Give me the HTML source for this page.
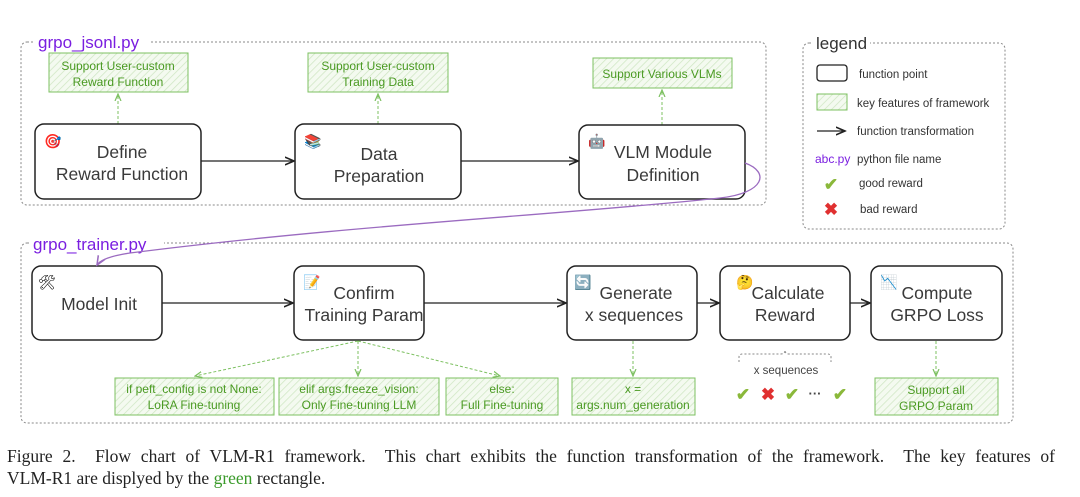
<!DOCTYPE html>
<html><head><meta charset="utf-8"><style>
body{margin:0;background:#fff;width:1080px;height:497px;overflow:hidden;position:relative}
svg{position:absolute;left:0;top:0}
.cap{position:absolute;left:7px;width:1048px;font-family:"Liberation Serif",serif;font-size:17.5px;line-height:22px;color:#222;white-space:nowrap}
.l1{top:445px;text-align:justify;text-align-last:justify;white-space:normal}
.l2{top:467px}
</style></head><body>
<svg width="1080" height="497" viewBox="0 0 1080 497" font-family="Liberation Sans, sans-serif">
<defs>
<pattern id="h" width="5" height="5" patternUnits="userSpaceOnUse" patternTransform="rotate(45)"><rect width="5" height="5" fill="#f4faf0"/><line x1="0" y1="0" x2="0" y2="5" stroke="#cfe6c3" stroke-width="1.5"/></pattern>
<marker id="a" markerWidth="8" markerHeight="8" refX="7" refY="4" orient="auto"><path d="M0,1 L7,4 L0,7" fill="none" stroke="#222" stroke-width="1.2"/></marker>
<marker id="g" markerWidth="8" markerHeight="8" refX="7" refY="4" orient="auto"><path d="M0,1 L7,4 L0,7" fill="none" stroke="#7cc060" stroke-width="1.2"/></marker>
<marker id="p" markerWidth="8" markerHeight="8" refX="7" refY="4" orient="auto"><path d="M0,1 L7,4 L0,7" fill="none" stroke="#9b6bc0" stroke-width="1.2"/></marker>
</defs>
<rect x="21" y="42" width="745" height="163" rx="6" fill="none" stroke="#888" stroke-dasharray="2,2"/>
<rect x="34" y="30" width="116" height="22" fill="#fff"/>
<text x="38" y="48" font-size="17" fill="#7a1ee0">grpo_jsonl.py</text>
<rect x="21" y="243" width="992" height="180" rx="6" fill="none" stroke="#888" stroke-dasharray="2,2"/>
<rect x="30" y="232" width="134" height="22" fill="#fff"/>
<text x="33" y="250" font-size="17" fill="#7a1ee0">grpo_trainer.py</text>
<rect x="803" y="43" width="202" height="186" rx="6" fill="none" stroke="#888" stroke-dasharray="2,2"/>
<rect x="812" y="32" width="58" height="22" fill="#fff"/>
<text x="816" y="49" font-size="17" fill="#333">legend</text>
<g font-size="12" fill="#4a9a22" text-anchor="middle">
<rect x="49" y="53" width="139" height="39" fill="url(#h)" stroke="#7cc060"/>
<text x="118" y="70">Support User-custom</text><text x="118" y="86">Reward Function</text>
<rect x="308" y="53" width="140" height="39" fill="url(#h)" stroke="#7cc060"/>
<text x="378" y="70">Support User-custom</text><text x="378" y="86">Training Data</text>
<rect x="593" y="58" width="139" height="30" fill="url(#h)" stroke="#7cc060"/>
<text x="662" y="78">Support Various VLMs</text>
</g>
<g stroke="#7cc060" stroke-dasharray="3,2" fill="none">
<line x1="118" y1="124" x2="118" y2="94" marker-end="url(#g)"/>
<line x1="378" y1="124" x2="378" y2="94" marker-end="url(#g)"/>
<line x1="662" y1="125" x2="662" y2="90" marker-end="url(#g)"/>
</g>
<g fill="#fff" stroke="#222" stroke-width="1.5">
<rect x="35" y="124" width="166" height="75" rx="9"/>
<rect x="295" y="124" width="166" height="75" rx="9"/>
<rect x="579" y="125" width="166" height="74" rx="9"/>
<rect x="32" y="266" width="130" height="74" rx="9"/>
<rect x="294" y="266" width="130" height="74" rx="9"/>
<rect x="567" y="266" width="130" height="74" rx="9"/>
<rect x="720" y="266" width="130" height="74" rx="9"/>
<rect x="871" y="266" width="131" height="74" rx="9"/>
</g>
<g font-size="17.5" fill="#3a3a3a" text-anchor="middle">
<text x="122" y="158">Define</text><text x="122" y="180">Reward Function</text>
<text x="379" y="160">Data</text><text x="379" y="182">Preparation</text>
<text x="663" y="158">VLM Module</text><text x="663" y="181">Definition</text>
<text x="99" y="310">Model Init</text>
<text x="364" y="299">Confirm</text><text x="364" y="321">Training Param</text>
<text x="636" y="299">Generate</text><text x="634" y="321">x sequences</text>
<text x="788" y="299">Calculate</text><text x="785" y="321">Reward</text>
<text x="937" y="299">Compute</text><text x="937" y="321">GRPO Loss</text>
</g>
<g font-size="14">
<text x="44" y="146">🎯</text><text x="304" y="146">📚</text><text x="588" y="146">🤖</text>
<text x="38" y="287">🛠</text><text x="303" y="287">📝</text><text x="574" y="287">🔄</text><text x="736" y="287">🤔</text><text x="880" y="287">📉</text>
</g>
<g stroke="#222" stroke-width="1.3" fill="none">
<line x1="201" y1="161" x2="294" y2="161" marker-end="url(#a)"/>
<line x1="461" y1="161" x2="578" y2="161" marker-end="url(#a)"/>
<line x1="162" y1="303" x2="293" y2="303" marker-end="url(#a)"/>
<line x1="424" y1="303" x2="566" y2="303" marker-end="url(#a)"/>
<line x1="697" y1="303" x2="719" y2="303" marker-end="url(#a)"/>
<line x1="850" y1="303" x2="870" y2="303" marker-end="url(#a)"/>
</g>
<path d="M745,163 C770,172 765,193 720,198 C560,215 350,225 130,253 C110,256 100,260 97,265" stroke="#9b6bc0" stroke-width="1.3" fill="none" marker-end="url(#p)"/>
<g stroke="#7cc060" stroke-dasharray="3,2" fill="none">
<line x1="358" y1="341" x2="195" y2="376" marker-end="url(#g)"/>
<line x1="358" y1="341" x2="358" y2="376" marker-end="url(#g)"/>
<line x1="358" y1="341" x2="500" y2="376" marker-end="url(#g)"/>
<line x1="633" y1="341" x2="633" y2="376" marker-end="url(#g)"/>
<line x1="936" y1="341" x2="936" y2="376" marker-end="url(#g)"/>
</g>
<g font-size="12" fill="#4a9a22" text-anchor="middle">
<rect x="115" y="378" width="159" height="37" fill="url(#h)" stroke="#7cc060"/>
<text x="194" y="393">if peft_config is not None:</text><text x="194" y="409">LoRA Fine-tuning</text>
<rect x="279" y="378" width="160" height="37" fill="url(#h)" stroke="#7cc060"/>
<text x="359" y="393">elif args.freeze_vision:</text><text x="359" y="409">Only Fine-tuning LLM</text>
<rect x="446" y="378" width="112" height="37" fill="url(#h)" stroke="#7cc060"/>
<text x="502" y="393">else:</text><text x="502" y="409">Full Fine-tuning</text>
<rect x="572" y="378" width="123" height="37" fill="url(#h)" stroke="#7cc060"/>
<text x="633" y="393">x =</text><text x="633" y="409">args.num_generation</text>
<rect x="875" y="378" width="123" height="37" fill="url(#h)" stroke="#7cc060"/>
<text x="936" y="394">Support all</text><text x="936" y="410">GRPO Param</text>
</g>
<path d="M739,362 v-5 q0,-3 4,-3 h38 q4,0 4,-4 q0,4 4,4 h38 q4,0 4,3 v5" fill="none" stroke="#888" stroke-dasharray="2,2"/>
<text x="786" y="374" font-size="11.5" fill="#444" text-anchor="middle">x sequences</text>
<g font-size="17" font-weight="bold" text-anchor="middle">
<text x="743" y="400" fill="#8ab83a">✔</text><text x="768" y="400" fill="#e03030">✖</text><text x="792" y="400" fill="#8ab83a">✔</text><text x="815" y="398" fill="#444" font-size="13">···</text><text x="840" y="400" fill="#8ab83a">✔</text>
</g>
<rect x="817" y="65" width="30" height="16" rx="3" fill="#fff" stroke="#222" stroke-width="1.3"/>
<rect x="817" y="94" width="30" height="16" fill="url(#h)" stroke="#7cc060"/>
<line x1="817" y1="131" x2="845" y2="131" stroke="#222" stroke-width="1.3" marker-end="url(#a)"/>
<g font-size="11.5" fill="#333">
<text x="859" y="78">function point</text>
<text x="857" y="107">key features of framework</text>
<text x="857" y="135">function transformation</text>
<text x="815" y="163" fill="#7a1ee0" font-size="12">abc.py</text>
<text x="857" y="163">python file name</text>
<text x="859" y="187">good reward</text>
<text x="860" y="213">bad reward</text>
</g>
<text x="831" y="190" font-size="17" fill="#8ab83a" text-anchor="middle" font-weight="bold">✔</text>
<text x="831" y="215" font-size="17" fill="#e03030" text-anchor="middle" font-weight="bold">✖</text>
</svg>
<div class="cap l1">Figure 2.&nbsp; Flow chart of VLM-R1 framework.&nbsp; This chart exhibits the function transformation of the framework.&nbsp; The key features of</div>
<div class="cap l2">VLM-R1 are displyed by the <span style="color:#3a9a2a">green</span> rectangle.</div>
</body></html>
